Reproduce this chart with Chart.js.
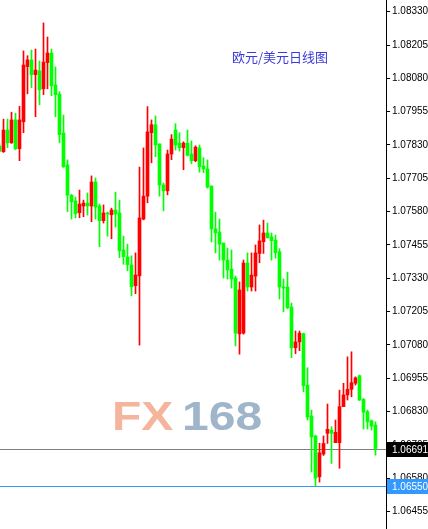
<!DOCTYPE html>
<html>
<head>
<meta charset="utf-8">
<script src="https://cdn.jsdelivr.net/npm/chart.js@4.4.0/dist/chart.umd.min.js"></script>
<style>
  html,body{margin:0;padding:0;background:#fff;}
  #wrap{width:428px;height:529px;}
</style>
</head>
<body>
<div id="wrap"><canvas id="kline" width="428" height="529"></canvas></div>
<script>
const opens = [1.07826,1.07805,1.07886,1.07838,1.07924,1.07816,1.07917,1.08124,1.08149,1.08094,
  1.08108,1.08041,1.08139,1.08175,1.08055,1.08021,1.07875,1.07755,1.07641,1.07620,
  1.07576,1.07601,1.07612,1.07601,1.07691,1.07601,1.07546,1.07575,1.07568,1.07586,
  1.07575,1.07436,1.07410,1.07380,1.07302,1.07339,1.07552,1.07638,1.07876,1.07906,
  1.07834,1.07680,1.07658,1.07796,1.07886,1.07837,1.07820,1.07837,1.07796,1.07771,
  1.07819,1.07751,1.07740,1.07676,1.07515,1.07503,1.07462,1.07398,1.07364,1.07331,
  1.07121,1.07124,1.07387,1.07297,1.07338,1.07423,1.07467,1.07500,1.07485,1.07473,
  1.07429,1.07297,1.07297,1.07222,1.07069,1.07091,1.07122,1.06929,1.06813,1.06738,
  1.06585,1.06670,1.06748,1.06760,1.06713,1.06713,1.06848,1.06892,1.06913,1.06936,
  1.06964,1.06875,1.06829,1.06795,1.06779];
const closes = [1.07807,1.07886,1.07838,1.07924,1.07816,1.07924,1.08130,1.08149,1.08094,1.08111,
  1.08037,1.08141,1.08175,1.08052,1.08019,1.07869,1.07748,1.07642,1.07617,1.07572,
  1.07608,1.07612,1.07601,1.07691,1.07597,1.07546,1.07575,1.07571,1.07586,1.07571,
  1.07433,1.07411,1.07381,1.07298,1.07342,1.07556,1.07638,1.07879,1.07906,1.07830,
  1.07680,1.07658,1.07796,1.07852,1.07830,1.07820,1.07837,1.07791,1.07771,1.07822,
  1.07748,1.07740,1.07672,1.07515,1.07500,1.07458,1.07398,1.07361,1.07327,1.07124,
  1.07286,1.07387,1.07297,1.07342,1.07425,1.07470,1.07500,1.07482,1.07471,1.07426,
  1.07297,1.07293,1.07219,1.07069,1.07091,1.07124,1.06927,1.06809,1.06734,1.06580,
  1.06675,1.06710,1.06763,1.06748,1.06752,1.06848,1.06892,1.06913,1.06938,1.06956,
  1.06873,1.06827,1.06791,1.06775,1.06691];
const highs = [1.07834,1.07927,1.07927,1.07953,1.07949,1.07975,1.08183,1.08165,1.08186,1.08190,
  1.08145,1.08288,1.08235,1.08190,1.08123,1.08030,1.07942,1.07774,1.07645,1.07635,
  1.07661,1.07623,1.07650,1.07714,1.07706,1.07608,1.07605,1.07578,1.07593,1.07653,
  1.07623,1.07488,1.07458,1.07414,1.07425,1.07747,1.07819,1.07974,1.07924,1.07939,
  1.07834,1.07687,1.07811,1.07869,1.07910,1.07876,1.07842,1.07886,1.07845,1.07827,
  1.07830,1.07782,1.07774,1.07676,1.07578,1.07552,1.07462,1.07443,1.07436,1.07338,
  1.07316,1.07398,1.07425,1.07425,1.07455,1.07530,1.07548,1.07537,1.07500,1.07492,
  1.07441,1.07327,1.07353,1.07237,1.07132,1.07132,1.07124,1.06994,1.06835,1.06741,
  1.06711,1.06738,1.06858,1.06773,1.06798,1.06910,1.06936,1.07035,1.07054,1.06960,
  1.06967,1.06879,1.06835,1.06798,1.06791];
const lows = [1.07804,1.07802,1.07820,1.07836,1.07812,1.07771,1.07876,1.08022,1.08045,1.07936,
  1.07981,1.08019,1.08041,1.08015,1.07936,1.07838,1.07746,1.07580,1.07552,1.07556,
  1.07557,1.07561,1.07567,1.07542,1.07552,1.07448,1.07537,1.07488,1.07478,1.07522,
  1.07407,1.07382,1.07358,1.07264,1.07272,1.07079,1.07549,1.07613,1.07763,1.07786,
  1.07638,1.07583,1.07643,1.07775,1.07811,1.07807,1.07737,1.07789,1.07760,1.07767,
  1.07728,1.07726,1.07668,1.07466,1.07425,1.07398,1.07331,1.07327,1.07293,1.07076,
  1.07045,1.07120,1.07282,1.07282,1.07282,1.07388,1.07423,1.07480,1.07398,1.07405,
  1.07252,1.07204,1.07216,1.07032,1.07047,1.07058,1.06904,1.06798,1.06603,1.06550,
  1.06565,1.06665,1.06710,1.06635,1.06713,1.06617,1.06848,1.06873,1.06885,1.06929,
  1.06871,1.06764,1.06764,1.06760,1.06666];

const priceTicks = [1.08330,1.08205,1.08080,1.07955,1.07830,1.07705,1.07580,1.07455,
  1.07330,1.07205,1.07080,1.06955,1.06830,1.06705,1.06580,1.06455];
const lastPrice = 1.06691;
const lowPrice = 1.06550;
const title = '欧元/美元日线图';

const upColor = '#ff0000';
const downColor = '#00ff00';
const colors = opens.map((o,i)=> closes[i] >= o ? upColor : downColor);

const bodies = opens.map((o,i)=>({x:i, y:[o, closes[i]]}));
const wicks = opens.map((o,i)=>({x:i, y:[lows[i], highs[i]]}));

const extras = {
  id: 'extras',
  beforeDatasetsDraw(chart){
    const {ctx, chartArea:a, scales:{y}} = chart;
    ctx.save();
    // watermark
    ctx.textBaseline = 'alphabetic';
    ctx.font = 'bold 40px "Liberation Sans", Arial, sans-serif';
    ctx.save(); ctx.translate(112, 430); ctx.scale(1.2, 1);
    ctx.fillStyle = '#f5b49c'; ctx.fillText('FX', 0, 0);
    ctx.restore();
    ctx.save(); ctx.translate(182, 430); ctx.scale(1.2, 1);
    ctx.fillStyle = '#9fb5ca'; ctx.fillText('168', 0, 0);
    ctx.restore();
    // price lines
    let py = Math.round(y.getPixelForValue(lastPrice)) + 0.5;
    ctx.strokeStyle = '#808080'; ctx.lineWidth = 1;
    ctx.beginPath(); ctx.moveTo(a.left, py); ctx.lineTo(a.right, py); ctx.stroke();
    py = Math.round(y.getPixelForValue(lowPrice)) + 0.5;
    ctx.strokeStyle = '#3399ff';
    ctx.beginPath(); ctx.moveTo(a.left, py); ctx.lineTo(a.right, py); ctx.stroke();
    ctx.restore();
  },
  afterDraw(chart){
    const {ctx, chartArea:a, scales:{y}} = chart;
    ctx.save();
    ctx.font = '10px "Liberation Sans", Arial, sans-serif';
    ctx.textBaseline = 'middle';
    [[lastPrice,'#000000'],[lowPrice,'#3399ff']].forEach(([v,bg])=>{
      const py = Math.round(y.getPixelForValue(v));
      ctx.fillStyle = bg;
      ctx.fillRect(a.right + 1, py - 7, 428 - a.right - 1, 15);
      ctx.fillStyle = '#fff';
      ctx.fillText(v.toFixed(5), a.right + 6, py + 1);
    });
    ctx.fillStyle = '#3c3cd6';
    ctx.font = '13px "Noto Sans CJK SC", sans-serif';
    ctx.textBaseline = 'middle';
    ctx.fillText(title, 232, 57);
    ctx.restore();
  }
};

new Chart(document.getElementById('kline'), {
  type: 'bar',
  data: {
    datasets: [
      {data: bodies, backgroundColor: colors, barThickness: 3, minBarLength: 1, grouped: false, borderWidth: 0},
      {data: wicks, backgroundColor: colors, barThickness: 1, grouped: false, borderWidth: 0}
    ]
  },
  options: {
    responsive: false,
    animation: false,
    events: [],
    layout: {padding: 0, autoPadding: false},
    plugins: {legend: {display: false}, tooltip: {enabled: false}},
    scales: {
      x: {type: 'linear', display: false, min: 0.125, max: 96.625, offset: false},
      y: {
        position: 'right',
        min: 1.06389, max: 1.08374,
        afterBuildTicks: s => { s.ticks = priceTicks.map(v=>({value:v})); },
        afterFit: s => { s.width = 42; s.paddingTop = 0; s.paddingBottom = 0; },
        grid: {drawOnChartArea: false, drawTicks: true, tickLength: 4, color: '#000'},
        border: {display: true, color: '#000', width: 1},
        ticks: {
          padding: 2, color: '#000',
          font: {family: '"Liberation Sans", Arial, sans-serif', size: 10},
          callback: v => Number(v).toFixed(5)
        }
      }
    }
  },
  plugins: [extras]
});
</script>
</body>
</html>
